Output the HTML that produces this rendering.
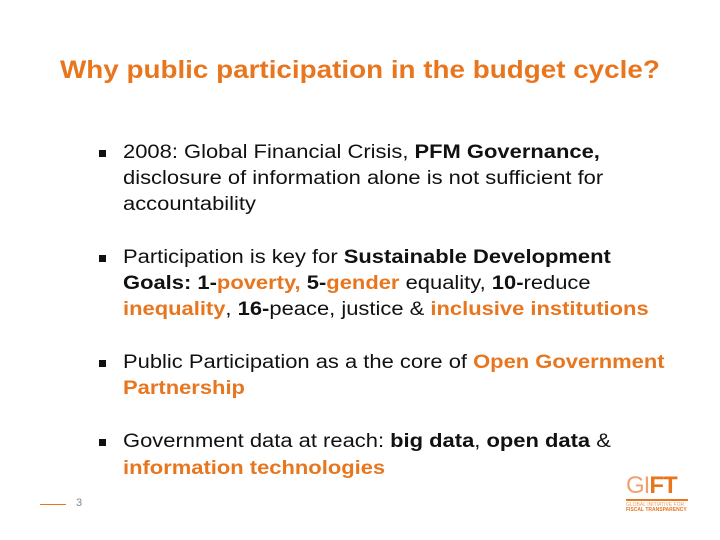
<!DOCTYPE html>
<html><head><meta charset="utf-8"><style>
body{margin:0;width:720px;height:540px;background:#fff;position:relative;overflow:hidden;font-family:"Liberation Sans",Arial,sans-serif;}
.t{position:absolute;left:60px;top:56px;color:#e8761f;font-weight:bold;font-size:25px;white-space:nowrap;transform:scaleX(1.113);transform-origin:left top;}
.l{position:absolute;left:123px;font-size:19px;line-height:26px;color:#111;white-space:nowrap;transform:scaleX(1.155);transform-origin:left top;}
.b{position:absolute;left:99px;width:7px;height:7px;background:#111;}
.o{color:#e8761f;font-weight:bold}
b{font-weight:bold}
</style></head><body>
<div class="t">Why public participation in the budget cycle?</div>

<div class="b" style="top:150px"></div>
<div class="l" style="top:140px">2008: Global Financial Crisis, <b>PFM Governance,</b></div>
<div class="l" style="top:166px">disclosure of information alone is not sufficient for</div>
<div class="l" style="top:192px">accountability</div>

<div class="b" style="top:255px"></div>
<div class="l" style="top:245px">Participation is key for <b>Sustainable Development</b></div>
<div class="l" style="top:271px"><b>Goals: 1-</b><span class="o">poverty,</span> <b>5-</b><span class="o">gender</span> equality, <b>10-</b>reduce</div>
<div class="l" style="top:297px"><span class="o">inequality</span>, <b>16-</b>peace, justice &amp; <span class="o">inclusive institutions</span></div>

<div class="b" style="top:360px"></div>
<div class="l" style="top:350px">Public Participation as a the core of <span class="o">Open Government</span></div>
<div class="l" style="top:376px"><span class="o">Partnership</span></div>

<div class="b" style="top:439px"></div>
<div class="l" style="top:429px">Government data at reach: <b>big data</b>, <b>open data</b> &amp;</div>
<div class="l" style="top:456px"><span class="o">information technologies</span></div>

<div style="position:absolute;left:40px;top:504px;width:26px;height:1px;background:#e8761f"></div>
<div style="position:absolute;left:76px;top:497px;font-size:11px;color:#888">3</div>

<div style="position:absolute;left:626px;top:474px;width:62px;height:40px">
  <div style="position:absolute;left:0;top:0;font-size:24px;line-height:24px;color:#f0a070;letter-spacing:-1px">GI<span style="font-weight:bold;color:#e8761f">FT</span></div>
  <div style="position:absolute;left:0;top:25px;width:62px;height:2px;background:#e8761f"></div>
  <div style="position:absolute;left:0;top:29px;font-size:5px;line-height:5px;color:#e8a070;white-space:nowrap">GLOBAL INITIATIVE FOR</div>
  <div style="position:absolute;left:0;top:34px;font-size:5px;line-height:5px;color:#e8761f;font-weight:bold;white-space:nowrap">FISCAL TRANSPARENCY</div>
</div>
</body></html>
